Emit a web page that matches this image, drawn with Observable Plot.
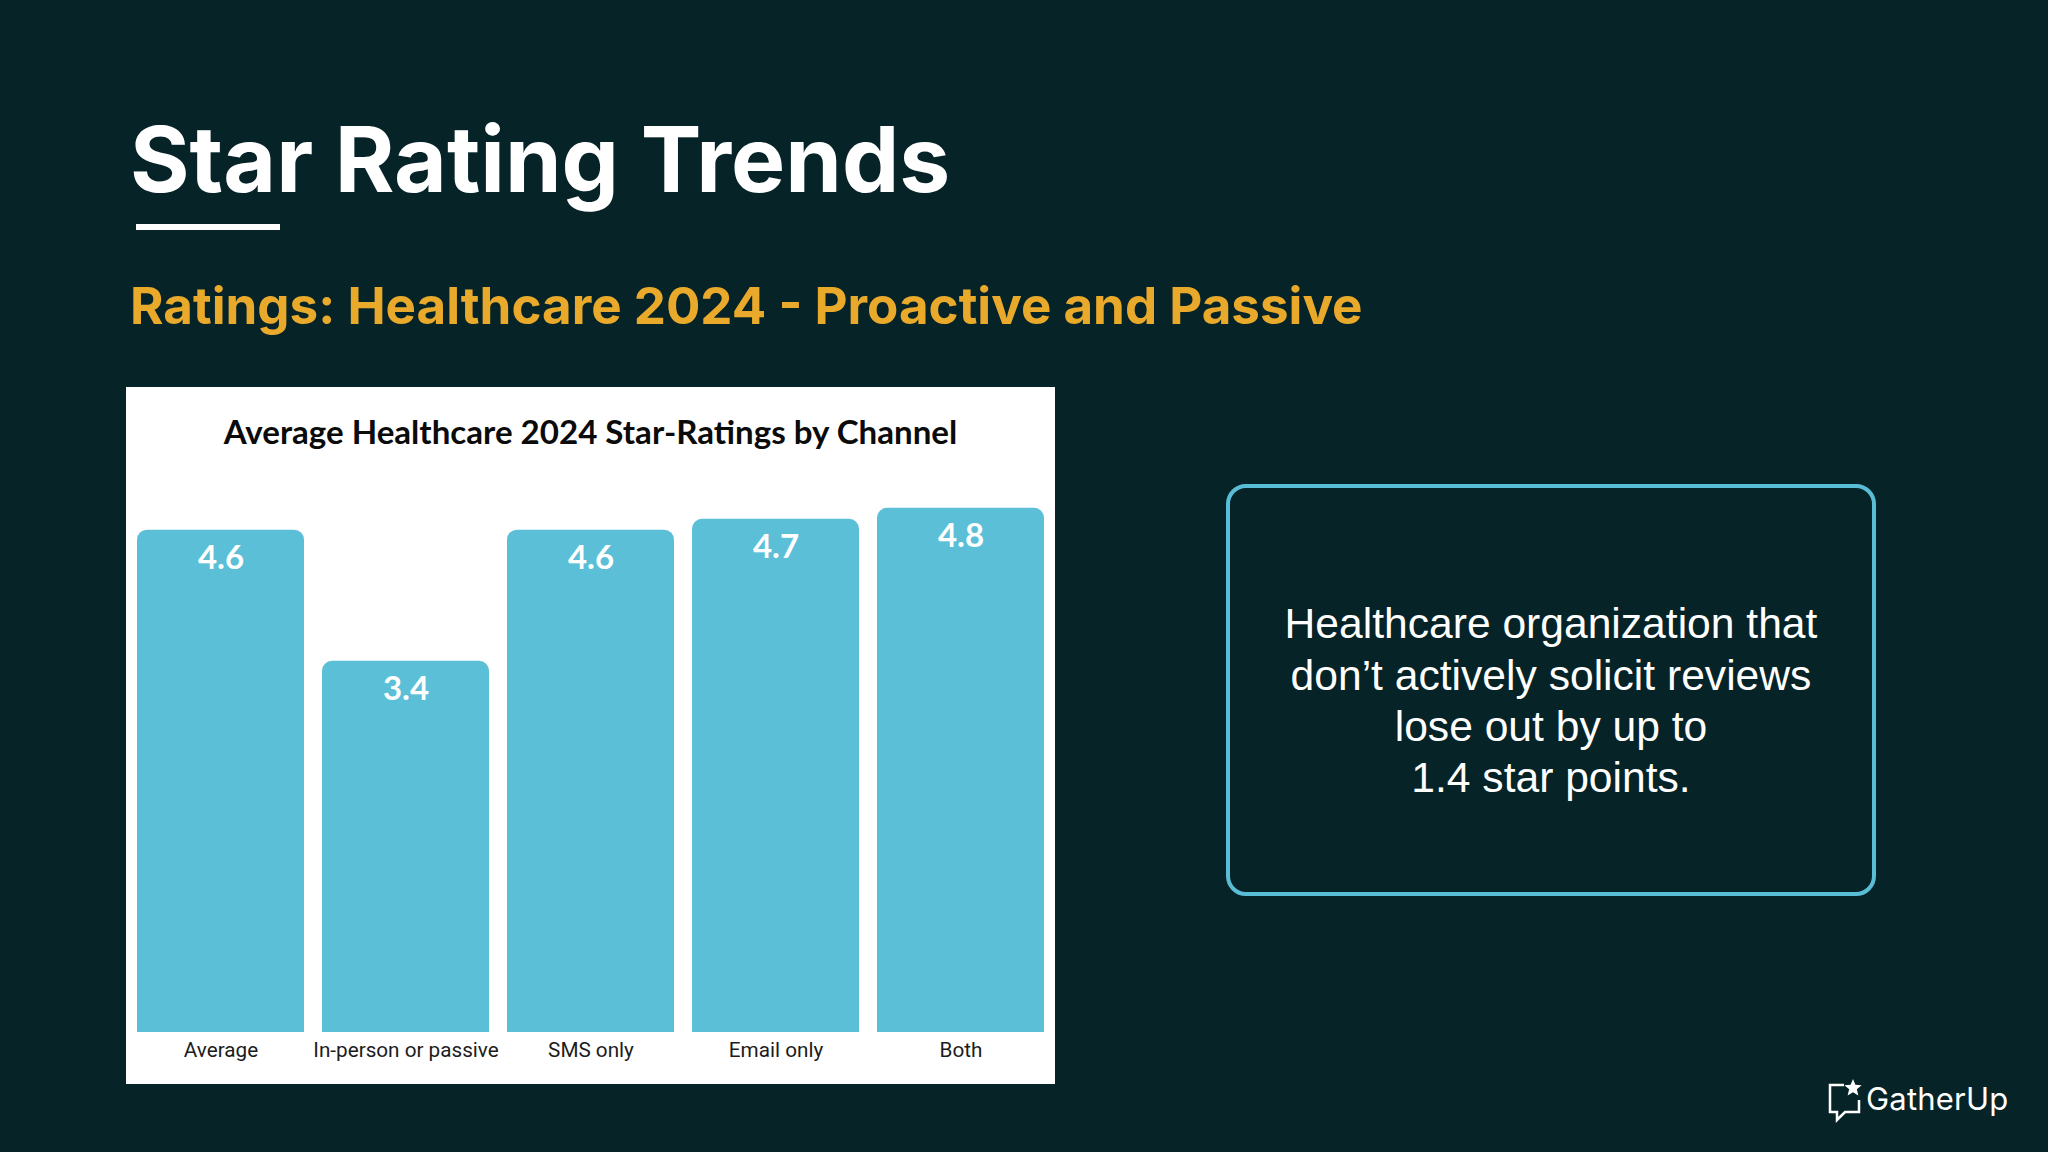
<!DOCTYPE html>
<html>
<head>
<meta charset="utf-8">
<script src="https://cdn.jsdelivr.net/npm/d3@7"></script>
<script src="https://cdn.jsdelivr.net/npm/@observablehq/plot@0.6"></script>
<style>
html,body{margin:0;padding:0;background:#062328;width:2048px;height:1152px;overflow:hidden}
.abs{position:absolute;white-space:nowrap}
#title{left:130px;top:105px;font:700 91px/108px Inter,sans-serif;color:#fff}
#rule{left:136px;top:224px;width:144px;height:6px;background:#fff}
#sub{left:130px;top:271px;font:700 51.100px/68px Inter,sans-serif;color:#E9A92B}
#panel{left:126px;top:387px;width:929px;height:697px;background:#fff}
#ctitle{left:0;width:929px;top:24px;text-align:center;font:700 33.100px/40px Lato,sans-serif;color:#0b0b0b}
#box{left:1226px;top:484px;width:642px;height:404px;border:4px solid #58BDD5;border-radius:20px;display:flex;align-items:center;justify-content:center;text-align:center;font:400 42.600px/51.300px "Liberation Sans",Arial,sans-serif;color:#fff}
#box>div{position:relative;top:11px}
#panel svg{position:absolute;left:0;top:0}
#logo{left:1822px;top:1072px}
</style>
</head>
<body>
<div class="abs" id="title">Star Rating Trends</div>
<div class="abs" id="rule"></div>
<div class="abs" id="sub">Ratings: Healthcare 2024 - Proactive and Passive</div>
<div class="abs" id="panel"><div class="abs" id="ctitle">Average Healthcare 2024 Star-Ratings by Channel</div></div>
<div class="abs" id="box"><div>Healthcare organization that<br>don’t actively solicit reviews<br>lose out by up to<br>1.4 star points.</div></div>
<svg class="abs" id="logo" width="200" height="60" viewBox="0 0 200 60">
  <path d="M22 13H8V40H15V48L23 40H37V28" fill="none" stroke="#fff" stroke-width="2.500"/>
  <path transform="translate(31 15.500) scale(.8) translate(-31 -15.500)" d="M31 5l3 7.200 7.800.6-6 5 1.900 7.600-6.700-4.100-6.700 4.100 1.900-7.600-6-5 7.800-.6z" fill="#fff"/>
  <text x="44" y="38" font-family="Inter, sans-serif" font-weight="400" font-size="31" letter-spacing="0.2" fill="#fff">GatherUp</text>
</svg>
<script>
const channels = ["Average", "In-person or passive", "SMS only", "Email only", "Both"];
const ratings = [4.6, 3.4, 4.6, 4.7, 4.8];
const table = channels.map((channel, i) => ({channel, rating: ratings[i]}));

const chart = Plot.plot({
  width: 929,
  height: 697,
  marginLeft: 10,
  marginRight: 10,
  marginTop: 99,
  marginBottom: 52,
  style: {background: "transparent", overflow: "visible"},
  x: {domain: channels, paddingInner: 0.1, paddingOuter: 0, label: null},
  y: {domain: [0, 5], axis: null},
  marks: [
    Plot.barY(table, {x: "channel", y: "rating", fill: "#5ABFD7", ry1: 10}),
    Plot.text(table, {x: "channel", y: "rating", text: d => d.rating.toFixed(1), dy: 28, fill: "#fff", fontSize: 33, fontWeight: 700, fontFamily: "Lato, sans-serif"}),
    Plot.axisX({tickSize: 0, tickPadding: 10, fontSize: 20.700, fontFamily: "Roboto, sans-serif", color: "#1c1c1c", label: null})
  ]
});
document.getElementById("panel").appendChild(chart);
</script>
</body>
</html>
